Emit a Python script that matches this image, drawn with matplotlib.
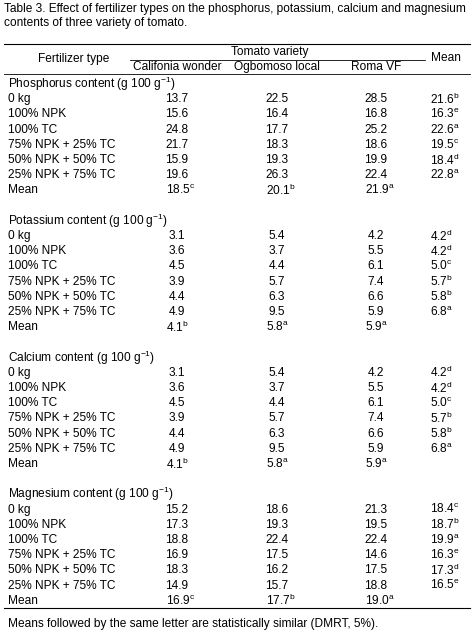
import matplotlib.pyplot as plt

plt.rcParams['font.family'] = ['Liberation Sans', 'DejaVu Sans']
plt.rcParams['mathtext.fontset'] = 'custom'
plt.rcParams['mathtext.rm'] = 'Liberation Sans'

title = ["Table 3. Effect of fertilizer types on the phosphorus, potassium, calcium and magnesium",
         "contents of three variety of tomato."]
varieties = ["Califonia wonder", "Ogbomoso local", "Roma VF"]
treatments = ["0 kg", "100% NPK", "100% TC", "75% NPK + 25% TC", "50% NPK + 50% TC", "25% NPK + 75% TC"]

blocks = ["Phosphorus", "Potassium", "Calcium", "Magnesium"]
values = {
    "Phosphorus": [[13.7, 22.5, 28.5], [15.6, 16.4, 16.8], [24.8, 17.7, 25.2],
                   [21.7, 18.3, 18.6], [15.9, 19.3, 19.9], [19.6, 26.3, 22.4]],
    "Potassium": [[3.1, 5.4, 4.2], [3.6, 3.7, 5.5], [4.5, 4.4, 6.1],
                  [3.9, 5.7, 7.4], [4.4, 6.3, 6.6], [4.9, 9.5, 5.9]],
    "Calcium": [[3.1, 5.4, 4.2], [3.6, 3.7, 5.5], [4.5, 4.4, 6.1],
                [3.9, 5.7, 7.4], [4.4, 6.3, 6.6], [4.9, 9.5, 5.9]],
    "Magnesium": [[15.2, 18.6, 21.3], [17.3, 19.3, 19.5], [18.8, 22.4, 22.4],
                  [16.9, 17.5, 14.6], [18.3, 16.2, 17.5], [14.9, 15.7, 18.8]],
}
row_means = {
    "Phosphorus": [("21.6", "b"), ("16.3", "e"), ("22.6", "a"), ("19.5", "c"), ("18.4", "d"), ("22.8", "a")],
    "Potassium": [("4.2", "d"), ("4.2", "d"), ("5.0", "c"), ("5.7", "b"), ("5.8", "b"), ("6.8", "a")],
    "Calcium": [("4.2", "d"), ("4.2", "d"), ("5.0", "c"), ("5.7", "b"), ("5.8", "b"), ("6.8", "a")],
    "Magnesium": [("18.4", "c"), ("18.7", "b"), ("19.9", "a"), ("16.3", "e"), ("17.3", "d"), ("16.5", "e")],
}
col_means = {
    "Phosphorus": [("18.5", "c"), ("20.1", "b"), ("21.9", "a")],
    "Potassium": [("4.1", "b"), ("5.8", "a"), ("5.9", "a")],
    "Calcium": [("4.1", "b"), ("5.8", "a"), ("5.9", "a")],
    "Magnesium": [("16.9", "c"), ("17.7", "b"), ("19.0", "a")],
}
footnote = "Means followed by the same letter are statistically similar (DMRT, 5%)."

fig = plt.figure(figsize=(4.74, 6.33), dpi=100)
ax = fig.add_axes([0, 0, 1, 1])
ax.set_xlim(0, 474)
ax.set_ylim(633, 0)
ax.axis('off')

fs = 8.6
def sup(v, l):
    return v + r"$^{\mathregular{" + l + "}}$"

ax.text(4, 9, title[0], fontsize=fs, va='center')
ax.text(4, 23, title[1], fontsize=fs, va='center')

ax.plot([4, 470], [44, 44], color='black', lw=0.8)
ax.text(270, 52, "Tomato variety", fontsize=fs, ha='center', va='center')
ax.plot([130, 425], [60, 60], color='black', lw=0.6)
ax.text(74, 59, "Fertilizer type", fontsize=fs, ha='center', va='center')
col_x = [177, 277, 376]
for x, name in zip(col_x, varieties):
    ax.text(x, 67, name, fontsize=fs, ha='center', va='center')
ax.text(446, 58, "Mean", fontsize=fs, ha='center', va='center')
ax.plot([4, 470], [74, 74], color='black', lw=0.6)

y = 84
dy = 15.2
for b in blocks:
    ax.text(8, y, b + r" content (g 100 g$^{\mathregular{-1}}$)", fontsize=fs, va='center')
    y += dy
    for i, t in enumerate(treatments):
        ax.text(8, y, t, fontsize=fs, va='center')
        for x, v in zip(col_x, values[b][i]):
            ax.text(x, y, f"{v:.1f}", fontsize=fs, ha='center', va='center')
        v, l = row_means[b][i]
        ax.text(430, y, sup(v, l), fontsize=fs, ha='left', va='center')
        y += dy
    ax.text(8, y, "Mean", fontsize=fs, va='center')
    for x, (v, l) in zip(col_x, col_means[b]):
        ax.text(x - 11, y, sup(v, l), fontsize=fs, ha='left', va='center')
    y += 2 * dy

ax.plot([4, 470], [608, 608], color='black', lw=0.8)
ax.text(8, 624, footnote, fontsize=fs, va='center')

fig.savefig("out.png", dpi=100, facecolor='white')
